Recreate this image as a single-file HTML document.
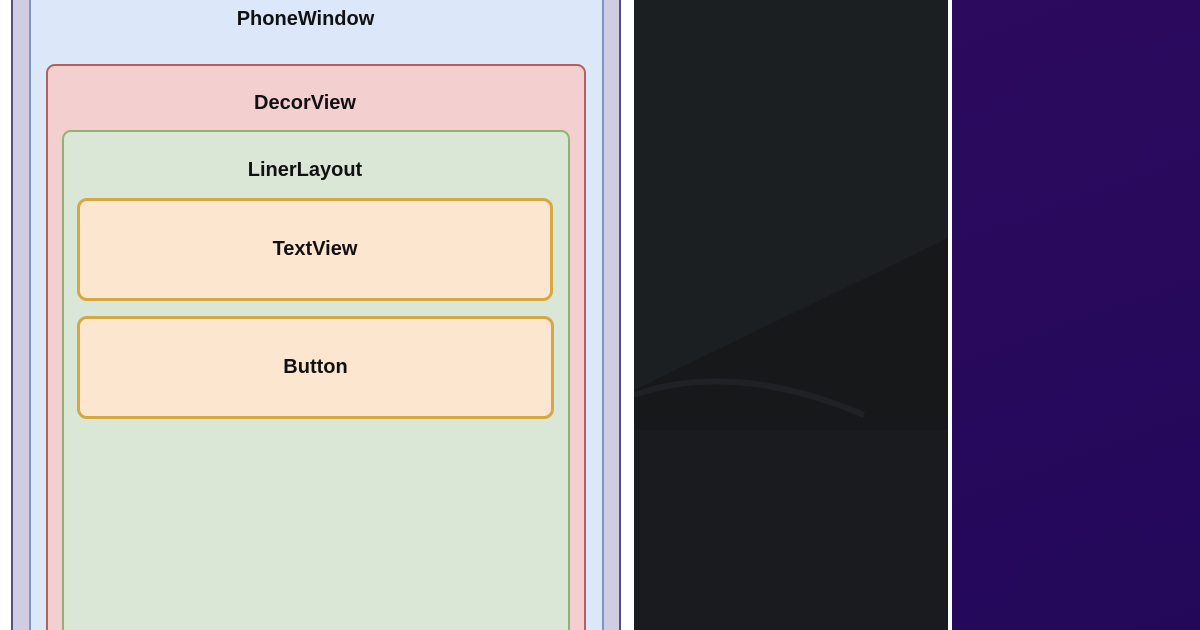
<!DOCTYPE html>
<html style="height:630px;overflow:hidden"><head><style>
body{margin:0;width:1200px;height:630px;overflow:hidden;background:#fff;position:relative;font-family:"Liberation Sans",sans-serif}
.a{position:absolute;box-sizing:border-box}
.t{position:absolute;left:0;right:0;text-align:center;font-weight:bold;font-size:20px;color:#111}
</style></head><body>
<div class="a" style="left:11px;top:0;width:610px;height:630px;background:#d0cde3;border-left:2px solid #56517e;border-right:2px solid #56517e"></div>
<div class="a" style="left:29px;top:0;width:575px;height:630px;background:#dce8fa;border-left:2px solid #7a96c6;border-right:2px solid #7a96c6">
<div class="t" style="top:8px;left:-22px">PhoneWindow</div></div>
<div class="a" style="left:46px;top:64px;width:540px;height:566px;background:#f3cfcf;border:2px solid #b5605e;border-bottom:none;border-radius:9px 9px 0 0">
<div class="t" style="top:26px;left:-22px">DecorView</div></div>
<div class="a" style="left:62px;top:130px;width:508px;height:500px;background:#dae7d6;border:2px solid #90b272;border-bottom:none;border-radius:9px 9px 0 0">
<div class="t" style="top:27px;left:-22px">LinerLayout</div></div>
<div class="a" style="left:77px;top:198px;width:476px;height:103px;background:#fce6cf;border:3px solid #d5a843;border-radius:10px">
<div class="t" style="top:37px">TextView</div></div>
<div class="a" style="left:77px;top:316px;width:477px;height:103px;background:#fce6cf;border:3px solid #d5a843;border-radius:10px">
<div class="t" style="top:37px">Button</div></div>
<div class="a" style="left:634px;top:0;width:314px;height:630px;background:#1c1f22;overflow:hidden">
<svg width="314" height="630" style="position:absolute;left:0;top:0">
<polygon points="0,390 314,238 314,630 0,630" fill="#17181a"/>
<path d="M0,395 Q100,360 230,415" stroke="#1f2124" stroke-width="6" fill="none"/>
<rect x="0" y="430" width="314" height="200" fill="#191b1e"/>
</svg></div>
<div class="a" style="left:952px;top:0;width:248px;height:630px;background:linear-gradient(160deg,#2c0a5e,#23085a)"></div>
</body></html>
